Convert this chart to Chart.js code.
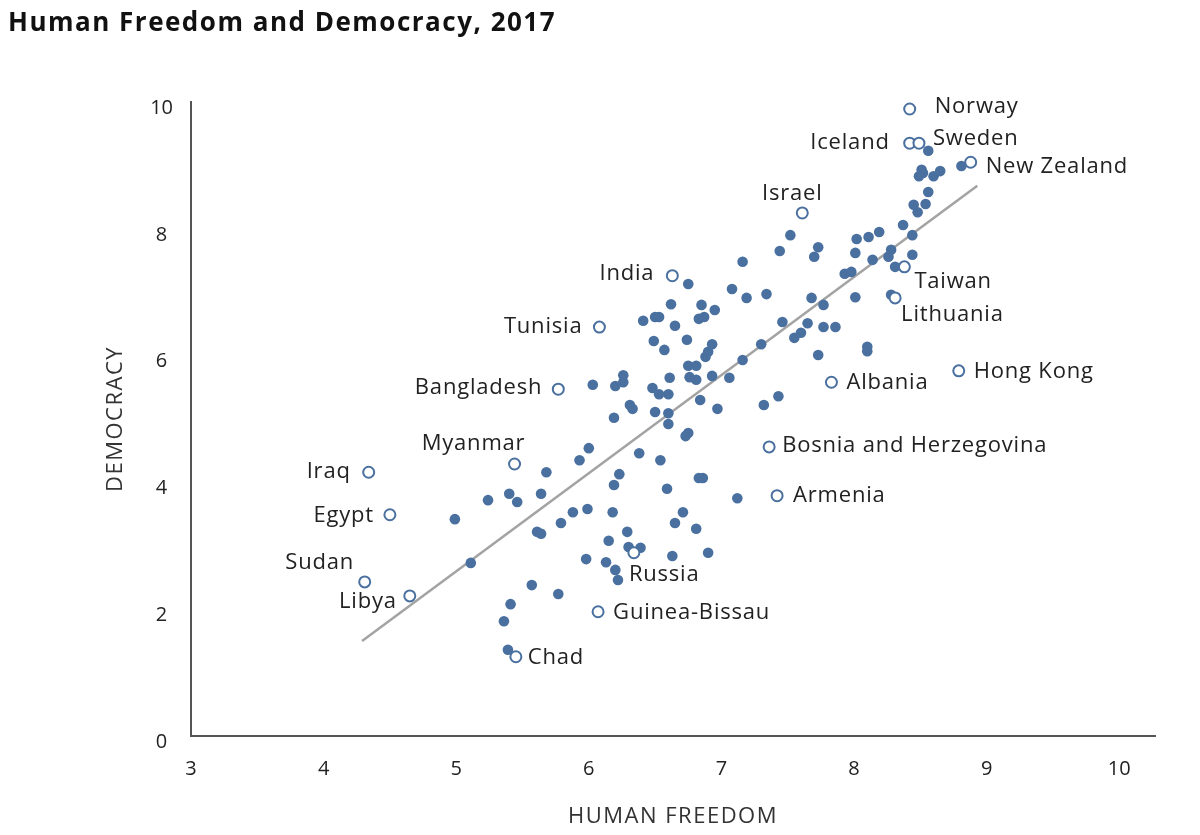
<!DOCTYPE html>
<html>
<head>
<meta charset="utf-8">
<title>Human Freedom and Democracy, 2017</title>
<script src="https://cdn.jsdelivr.net/npm/chart.js@4.4.1/dist/chart.umd.min.js"></script>
<style>
    html, body { margin: 0; padding: 0; background: #ffffff; }
    #wrap { width: 1200px; height: 835px; }
</style>
</head>
<body>
<div id="wrap"><canvas id="freedomChart" width="1200" height="835"></canvas></div>
<script>
// ================================
// DATA
// ================================

const xTicks = [3, 4, 5, 6, 7, 8, 9, 10];
const yTicks = [0, 2, 4, 6, 8, 10];

// unlabelled countries
const freedom = [
    8.56, 8.51, 8.52, 8.49, 8.60, 8.65, 8.81, 8.56, 8.45, 8.54,
    8.48, 8.37, 8.44, 8.19, 8.11, 8.02, 8.01, 8.28, 8.26, 8.14,
    8.44, 8.31, 7.93, 7.98, 7.52, 7.44, 7.73, 7.70, 7.16, 7.08,
    7.19, 7.34, 7.68, 7.77, 8.01, 8.28, 7.46, 7.65, 7.77, 7.86,
    7.55, 7.60, 7.30, 7.16, 7.06, 7.73, 8.10, 8.10, 6.75, 6.62,
    6.85, 6.95, 6.41, 6.50, 6.53, 6.83, 6.87, 6.65, 6.49, 6.74,
    6.57, 6.93, 6.90, 6.88, 6.75, 6.81, 6.26, 6.26, 6.20, 6.03,
    6.61, 6.76, 6.81, 6.93, 6.48, 6.53, 6.60, 6.84, 6.97, 6.31,
    6.33, 6.50, 6.60, 6.19, 6.60, 6.75, 6.73, 7.32, 7.43, 6.00,
    5.93, 6.38, 6.54, 5.68, 6.23, 6.19, 6.59, 6.83, 6.86, 7.12,
    5.40, 5.46, 5.24, 5.64, 4.99, 5.88, 5.99, 6.18, 5.79, 5.61,
    5.64, 6.29, 6.15, 6.30, 6.39, 6.71, 6.65, 6.81, 6.63, 6.90,
    5.98, 6.13, 6.20, 6.22, 5.11, 5.57, 5.77, 5.41, 5.36, 5.39
];

const democracy = [
    9.23, 8.93, 8.88, 8.83, 8.83, 8.91, 8.99, 8.58, 8.38, 8.39,
    8.26, 8.06, 7.90, 7.95, 7.87, 7.84, 7.62, 7.67, 7.56, 7.51,
    7.59, 7.40, 7.29, 7.32, 7.90, 7.65, 7.71, 7.56, 7.48, 7.05,
    6.91, 6.97, 6.91, 6.80, 6.92, 6.96, 6.53, 6.51, 6.45, 6.45,
    6.28, 6.36, 6.18, 5.93, 5.65, 6.01, 6.14, 6.07, 7.13, 6.81,
    6.80, 6.72, 6.55, 6.61, 6.61, 6.58, 6.61, 6.47, 6.23, 6.25,
    6.09, 6.18, 6.06, 5.98, 5.84, 5.84, 5.69, 5.58, 5.52, 5.54,
    5.65, 5.66, 5.62, 5.68, 5.49, 5.39, 5.39, 5.30, 5.16, 5.22,
    5.16, 5.11, 5.09, 5.02, 4.92, 4.78, 4.73, 5.22, 5.36, 4.54,
    4.35, 4.46, 4.35, 4.16, 4.13, 3.96, 3.90, 4.07, 4.07, 3.75,
    3.82, 3.69, 3.72, 3.82, 3.42, 3.53, 3.58, 3.53, 3.36, 3.22,
    3.19, 3.22, 3.08, 2.98, 2.97, 3.53, 3.36, 3.27, 2.84, 2.89,
    2.79, 2.74, 2.62, 2.46, 2.73, 2.38, 2.24, 2.08, 1.81, 1.36
];

// labelled countries
const namedCountries = [
    "Norway", "Iceland", "Sweden", "New Zealand", "Israel", "India",
    "Taiwan", "Lithuania", "Tunisia", "Hong Kong", "Albania", "Bangladesh",
    "Bosnia and Herzegovina", "Myanmar", "Iraq", "Armenia", "Egypt",
    "Sudan", "Libya", "Russia", "Guinea-Bissau", "Chad"
];

const namedFreedom = [
    8.42, 8.42, 8.49, 8.88, 7.61, 6.63,
    8.38, 8.31, 6.08, 8.79, 7.83, 5.77,
    7.36, 5.44, 4.34, 7.42, 4.50,
    4.31, 4.65, 6.34, 6.07, 5.45
];

const namedDemocracy = [
    9.89, 9.35, 9.35, 9.05, 8.25, 7.26,
    7.40, 6.91, 6.45, 5.76, 5.58, 5.47,
    4.56, 4.29, 4.16, 3.79, 3.49,
    2.43, 2.21, 2.89, 1.96, 1.25
];

// fitted trend line end points
const trendFreedom = [4.29, 8.93];
const trendDemocracy = [1.50, 8.68];

// ================================
// STYLE
// ================================

const FONT = "'Open Sans', 'DejaVu Sans', sans-serif";
const BLUE = "#4a70a0";
const TEXT = "#222222";

// where each country name sits next to its circle
const labelStyle = {
    "Norway": { dx: 25, dy: -2, align: "left" },
    "Iceland": { dx: -20, dy: 0, align: "right" },
    "Sweden": { dx: 14, dy: -4, align: "left" },
    "New Zealand": { dx: 15, dy: 5, align: "left" },
    "Israel": { dx: -10, dy: -19, align: "center" },
    "India": { dx: -18, dy: -2, align: "right" },
    "Taiwan": { dx: 10, dy: 15, align: "left" },
    "Lithuania": { dx: 6, dy: 17, align: "left" },
    "Tunisia": { dx: -17, dy: 0, align: "right" },
    "Hong Kong": { dx: 15, dy: 1, align: "left" },
    "Albania": { dx: 15, dy: 1, align: "left" },
    "Bangladesh": { dx: -16, dy: -1, align: "right" },
    "Bosnia and Herzegovina": { dx: 13, dy: -1, align: "left" },
    "Myanmar": { dx: -41, dy: -20, align: "center" },
    "Iraq": { dx: -18, dy: -1, align: "right" },
    "Armenia": { dx: 16, dy: 0, align: "left" },
    "Egypt": { dx: -16, dy: 1, align: "right" },
    "Sudan": { dx: -45, dy: -19, align: "center" },
    "Libya": { dx: -13, dy: 6, align: "right" },
    "Russia": { dx: -5, dy: 22, align: "left" },
    "Guinea-Bissau": { dx: 15, dy: 1, align: "left" },
    "Chad": { dx: 12, dy: 1, align: "left" }
};

// ================================
// PLUGINS
// ================================

// white page, and the wide tracking of the titles
const whiteBackground = {
    id: "whiteBackground",
    beforeDraw(chart) {
        const ctx = chart.ctx;
        ctx.save();
        ctx.fillStyle = "#ffffff";
        ctx.fillRect(0, 0, chart.width, chart.height);
        ctx.restore();
        ctx.letterSpacing = "1.5px";
    },
    beforeDatasetsDraw(chart) {
        chart.ctx.letterSpacing = "0px";
    }
};

const countryLabels = {
    id: "countryLabels",
    afterDatasetsDraw(chart) {
        const meta = chart.getDatasetMeta(0);
        const ctx = chart.ctx;
        ctx.save();
        ctx.font = "22px " + FONT;
        ctx.letterSpacing = "0.8px";
        ctx.fillStyle = TEXT;
        ctx.textBaseline = "middle";
        meta.data.forEach((pt, i) => {
            const name = namedCountries[i];
            const s = labelStyle[name];
            ctx.textAlign = s.align;
            ctx.fillText(name, pt.x + s.dx, pt.y + s.dy);
        });
        ctx.restore();
    }
};

// ================================
// CHART
// ================================

const ctx = document.getElementById("freedomChart");

new Chart(ctx, {
    type: "scatter",

    data: {
        datasets: [
            {
                label: "Labelled",
                data: namedFreedom.map((x, i) => ({ x: x, y: namedDemocracy[i] })),
                pointRadius: 5.5,
                pointBorderWidth: 2,
                pointBorderColor: BLUE,
                pointBackgroundColor: "#ffffff",
                order: 0
            },
            {
                label: "Countries",
                data: freedom.map((x, i) => ({ x: x, y: democracy[i] })),
                pointRadius: 5.3,
                pointBorderWidth: 0,
                pointBackgroundColor: BLUE,
                order: 1
            },
            {
                type: "line",
                label: "Trend",
                data: trendFreedom.map((x, i) => ({ x: x, y: trendDemocracy[i] })),
                borderColor: "#a3a3a3",
                borderWidth: 2.5,
                pointRadius: 0,
                fill: false,
                order: 2
            }
        ]
    },

    options: {
        responsive: false,
        animation: false,
        devicePixelRatio: 1,

        layout: {
            padding: { left: 8, right: 45, top: 0, bottom: 0 }
        },

        plugins: {
            legend: { display: false },
            tooltip: { enabled: false },
            title: {
                display: true,
                text: "Human Freedom and Democracy, 2017",
                align: "start",
                color: "#111111",
                font: { family: FONT, size: 26, weight: "bold" },
                padding: { top: 8, bottom: 62.8 }
            }
        },

        scales: {
            x: {
                type: "linear",
                min: 3,
                max: 10.27,
                afterBuildTicks: scale => {
                    scale.ticks = xTicks.map(v => ({ value: v }));
                },
                afterFit: scale => {
                    scale.height = 99;
                },
                grid: { display: false, drawTicks: false },
                border: { display: true, color: "#555555", width: 2 },
                ticks: {
                    z: 1,
                    color: TEXT,
                    padding: 21,
                    font: { family: FONT, size: 20 }
                },
                title: {
                    display: true,
                    text: "HUMAN FREEDOM",
                    color: "#333333",
                    font: { family: FONT, size: 22 },
                    padding: { top: 0, bottom: 5 }
                }
            },

            y: {
                type: "linear",
                min: 0,
                max: 10,
                afterBuildTicks: scale => {
                    scale.ticks = yTicks.map(v => ({ value: v }));
                },
                afterFit: scale => {
                    scale.width = 183;
                },
                grid: { display: false, drawTicks: false },
                border: { display: true, color: "#555555", width: 2 },
                ticks: {
                    z: 1,
                    color: TEXT,
                    padding: 18,
                    crossAlign: "center",
                    labelOffset: 6,
                    font: { family: FONT, size: 20 }
                },
                title: {
                    display: true,
                    text: "DEMOCRACY",
                    color: "#333333",
                    font: { family: FONT, size: 22 },
                    padding: { top: 95, bottom: 0 }
                }
            }
        }
    },

    plugins: [whiteBackground, countryLabels]
});
</script>
</body>
</html>
